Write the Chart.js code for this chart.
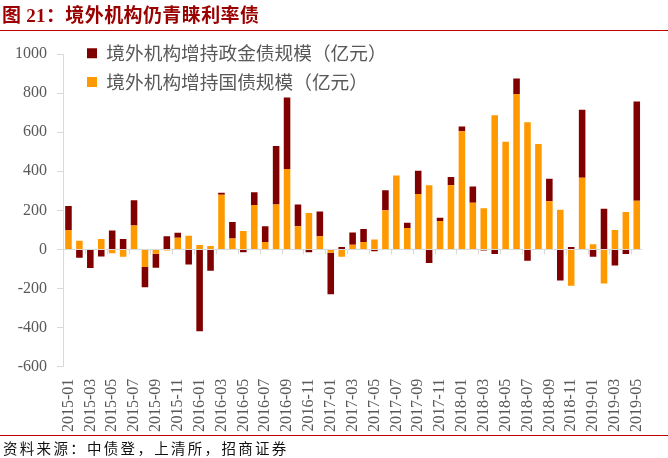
<!DOCTYPE html>
<html>
<head>
<meta charset="utf-8">
<script src="https://cdn.jsdelivr.net/npm/chart.js@4.4.1/dist/chart.umd.min.js"></script>
<style>
  html, body { margin: 0; padding: 0; background: #fff; }
  #wrap { position: relative; width: 668px; height: 458px; overflow: hidden; }
  #c { position: absolute; left: 0; top: 0; }
  .title { position: absolute; left: 2px; top: 0px; font-family: "Noto Sans CJK SC", sans-serif; font-weight: bold; font-size: 19px; letter-spacing: 0.4px; color: #9A0000; white-space: nowrap; }
  .title .num { font-family: "Liberation Serif", serif; }
  .rule { position: absolute; left: 0; width: 668px; height: 0; border-top: 1.5px solid #C00000; }
  .source { position: absolute; left: 3px; top: 437px; font-family: "Noto Sans CJK SC", sans-serif; font-size: 14.5px; letter-spacing: 2.3px; color: #111; white-space: nowrap; }
</style>
</head>
<body>
<div id="wrap">
  <canvas id="c" width="668" height="458"></canvas>
  <div class="title">图 <span class="num">21</span>：境外机构仍青睐利率债</div>
  <div class="rule" style="top:30px"></div>
  <div class="rule" style="top:435px"></div>
  <div class="source">资料来源：中债登，上清所，招商证券</div>
</div>
<script>
const months = [
  '2015-01','2015-02','2015-03','2015-04','2015-05','2015-06','2015-07','2015-08','2015-09','2015-10','2015-11','2015-12',
  '2016-01','2016-02','2016-03','2016-04','2016-05','2016-06','2016-07','2016-08','2016-09','2016-10','2016-11','2016-12',
  '2017-01','2017-02','2017-03','2017-04','2017-05','2017-06','2017-07','2017-08','2017-09','2017-10','2017-11','2017-12',
  '2018-01','2018-02','2018-03','2018-04','2018-05','2018-06','2018-07','2018-08','2018-09','2018-10','2018-11','2018-12',
  '2019-01','2019-02','2019-03','2019-04','2019-05'
];
// 境外机构增持国债规模（亿元）
const govBond = [
  99, 44, -3, 53, -19, -38, 123, -90, -22, -5, 60, 70,
  22, 17, 280, 56, 94, 227, 38, 230, 411, 119, 186, 68,
  -17, -38, 24, 38, 51, 201, 378, 109, 283, 329, 145, 329,
  605, 239, 211, 687, 551, 795, 651, 539, 247, 203, -186, 367,
  26, -174, 99, 191, 249
];
// 境外机构增持政金债规模（亿元）
const policyBond = [
  123, -43, -92, -36, 97, 53, 128, -103, -72, 68, 25, -77,
  -419, -109, 10, 84, -14, 66, 80, 299, 366, 111, -15, 126,
  -213, 12, 63, 66, -9, 102, -3, 27, 119, -70, 17, 41,
  24, 83, -5, -24, 0, 80, -58, 0, 114, -159, 12, 348,
  -38, 208, -82, -24, 508
];
const seriesNames = ['境外机构增持国债规模（亿元）', '境外机构增持政金债规模（亿元）'];
const yTicks = { min: -600, max: 1000, step: 200 };

const axisGrey = '#d9d9d9';
const labelGrey = '#595959';

const zeroTicks = {
  id: 'zeroTicks',
  afterDatasetsDraw(chart) {
    const xs = chart.scales.x, ys = chart.scales.y;
    const y0 = ys.getPixelForValue(0);
    const ctx = chart.ctx;
    ctx.save();
    ctx.strokeStyle = axisGrey;
    ctx.lineWidth = 1;
    ctx.beginPath();
    ctx.moveTo(chart.chartArea.left, Math.round(y0) + 0.5);
    ctx.lineTo(chart.chartArea.right, Math.round(y0) + 0.5);
    for (let i = 2; i < months.length; i += 2) {
      const x = Math.round((xs.getPixelForValue(i - 1) + xs.getPixelForValue(i)) / 2) + 0.5;
      ctx.moveTo(x, y0);
      ctx.lineTo(x, y0 + 5);
    }
    ctx.stroke();
    ctx.restore();
  }
};

const legendShift = {
  id: 'legendShift',
  afterLayout(chart) {
    const lg = chart.legend;
    if (lg) {
      const h = lg.bottom - lg.top;
      lg.left = chart.chartArea.left + 14;
      lg.top = chart.chartArea.top - 20;
      lg.bottom = lg.top + h;
    }
  }
};

new Chart(document.getElementById('c'), {
  type: 'bar',
  data: {
    labels: months,
    datasets: [
      { label: seriesNames[0], data: govBond, backgroundColor: '#FF9900', stack: 's' },
      { label: seriesNames[1], data: policyBond, backgroundColor: '#800000', stack: 's' }
    ]
  },
  options: {
    responsive: false,
    animation: false,
    layout: { padding: { left: 5, right: 3, top: 54, bottom: 14 } },
    datasets: { bar: { barPercentage: 0.6, categoryPercentage: 1.0 } },
    plugins: {
      legend: {
        position: 'chartArea',
        align: 'start',
        reverse: true,
        labels: {
          boxWidth: 10, boxHeight: 10, padding: 10,
          color: labelGrey,
          font: { family: '"Noto Sans CJK SC", sans-serif', size: 18.7 }
        }
      },
      tooltip: { enabled: false }
    },
    scales: {
      x: {
        stacked: true,
        grid: { display: false, drawTicks: false },
        border: { display: false },
        ticks: {
          autoSkip: false, maxRotation: 90, minRotation: 90, padding: 12,
          color: labelGrey,
          font: { family: '"Liberation Serif", serif', size: 16 },
          callback: (v, i) => (i % 2 === 0 ? months[i] : '')
        }
      },
      y: {
        stacked: true,
        min: yTicks.min, max: yTicks.max,
        grid: { drawOnChartArea: false, color: axisGrey, tickColor: axisGrey, tickLength: 6 },
        border: { display: true, color: axisGrey },
        ticks: {
          stepSize: yTicks.step, padding: 10,
          color: labelGrey,
          font: { family: '"Liberation Serif", serif', size: 16 },
          callback: (v) => String(v)
        }
      }
    }
  },
  plugins: [zeroTicks, legendShift]
});
</script>
</body>
</html>
